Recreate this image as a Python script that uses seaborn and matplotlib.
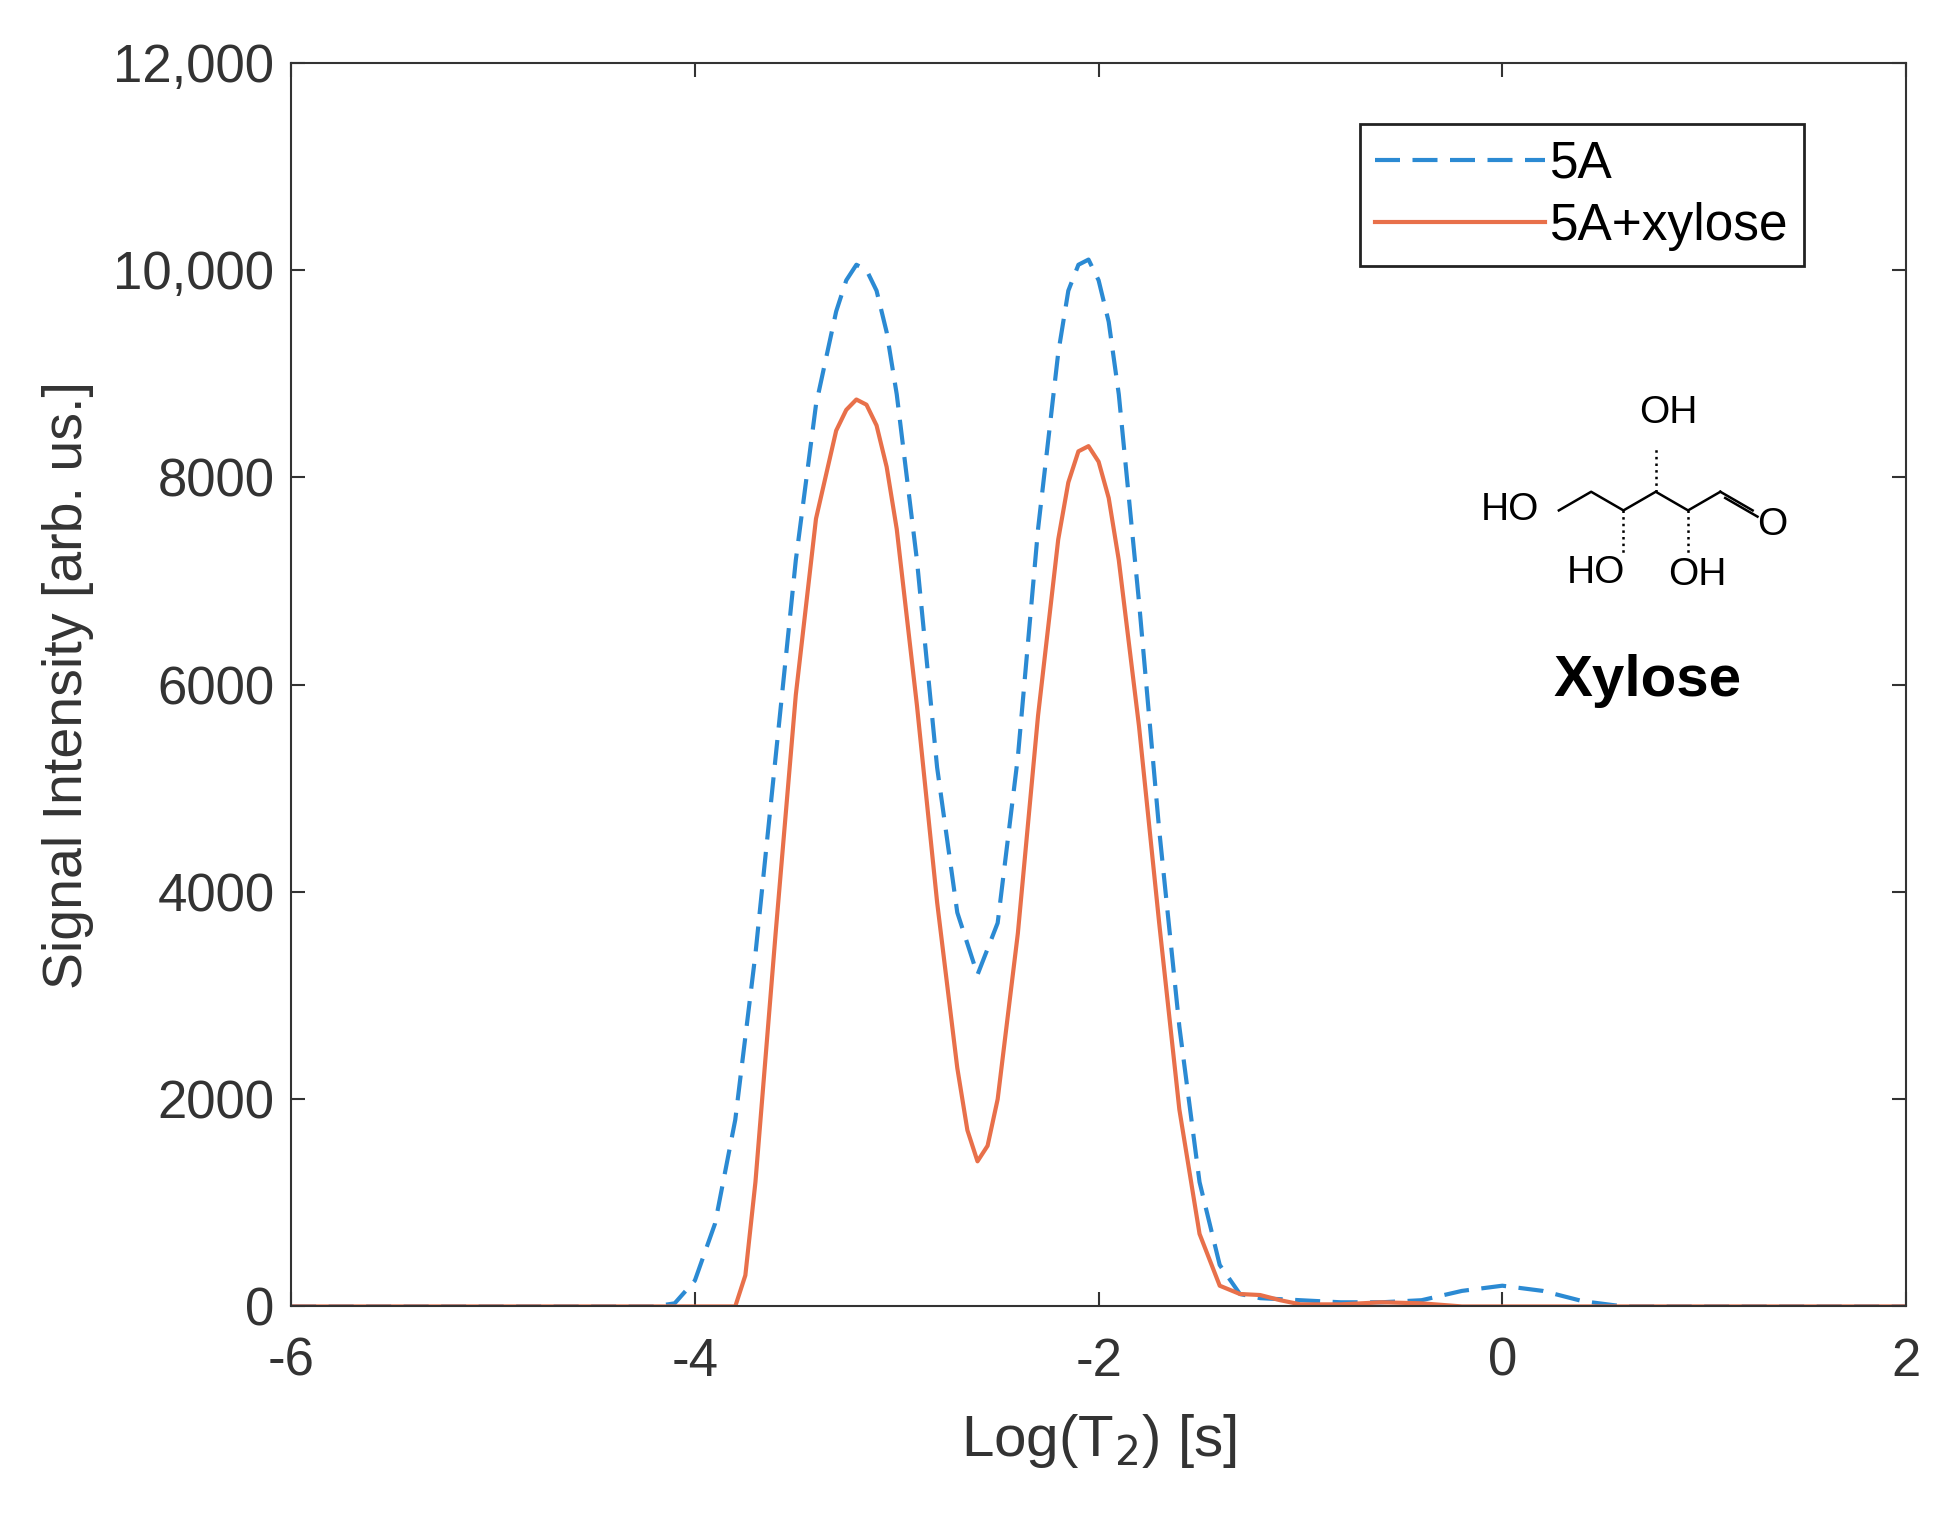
import numpy as np
import pandas as pd
import seaborn as sns
import matplotlib.pyplot as plt

# values
logt_5a = [-6.0, -4.2, -4.1, -4.0, -3.9, -3.8, -3.7, -3.6, -3.5, -3.4, -3.3, -3.25, -3.2, -3.15, -3.1, -3.05, -3.0,
           -2.9, -2.8, -2.7, -2.6, -2.5, -2.4, -2.3, -2.2, -2.15, -2.1, -2.05, -2.0, -1.95, -1.9, -1.8, -1.7, -1.6,
           -1.5, -1.4, -1.3, -1.2, -1.0, -0.8, -0.6, -0.4, -0.2, 0.0, 0.2, 0.4, 0.6, 2.0]
sig_5a = [0, 0, 30, 250, 800, 1800, 3400, 5300, 7200, 8700, 9600, 9900, 10050, 10000, 9800, 9400, 8800,
          7200, 5200, 3800, 3200, 3700, 5300, 7500, 9200, 9800, 10050, 10100, 9900, 9500, 8800, 6800, 4600, 2700,
          1200, 400, 120, 80, 60, 40, 40, 60, 150, 200, 150, 50, 0, 0]
logt_xyl = [-6.0, -3.9, -3.8, -3.75, -3.7, -3.6, -3.5, -3.4, -3.3, -3.25, -3.2, -3.15, -3.1, -3.05, -3.0,
            -2.9, -2.8, -2.7, -2.65, -2.6, -2.55, -2.5, -2.4, -2.3, -2.2, -2.15, -2.1, -2.05, -2.0, -1.95, -1.9,
            -1.8, -1.7, -1.6, -1.5, -1.4, -1.3, -1.2, -1.1, -1.0, -0.8, -0.6, -0.4, -0.2, 0.0, 2.0]
sig_xyl = [0, 0, 0, 300, 1200, 3600, 5900, 7600, 8450, 8650, 8750, 8700, 8500, 8100, 7500,
           5800, 3900, 2300, 1700, 1400, 1550, 2000, 3600, 5700, 7400, 7950, 8250, 8300, 8150, 7800, 7200,
           5600, 3700, 1900, 700, 200, 120, 110, 60, 20, 20, 40, 30, 0, 0, 0]

df = pd.concat([
    pd.DataFrame({"x": logt_5a, "y": sig_5a, "s": "5A"}),
    pd.DataFrame({"x": logt_xyl, "y": sig_xyl, "s": "5A+xylose"}),
])

plt.rcParams["font.family"] = "Liberation Sans"
plt.rcParams["axes.unicode_minus"] = False
fig, ax = plt.subplots(figsize=(19.41, 15.28), dpi=100)
fig.subplots_adjust(left=0.150, right=0.982, top=0.959, bottom=0.145)

sns.lineplot(data=df, x="x", y="y", hue="s", style="s",
             palette={"5A": "#2b8ad3", "5A+xylose": "#e8704a"},
             dashes={"5A": (6, 3), "5A+xylose": ""}, linewidth=3, ax=ax, sort=False)

ax.set_xlim(-6, 2)
ax.set_ylim(0, 12000)
ax.set_xticks([-6, -4, -2, 0, 2])
ax.set_yticks(range(0, 12001, 2000))
ax.set_yticklabels(["0", "2000", "4000", "6000", "8000", "10,000", "12,000"])
ax.tick_params(direction="in", length=10, width=1.5, labelsize=38, colors="#333333",
               top=True, right=True, pad=12)
ax.tick_params(axis="x", pad=22)
for sp in ax.spines.values():
    sp.set_linewidth(1.5)
    sp.set_color("#333333")
ax.set_xlabel(r"Log(T$_2$) [s]", fontsize=42, color="#333333", labelpad=18)
ax.set_ylabel("Signal Intensity [arb. us.]", fontsize=40, color="#333333", labelpad=14)

leg = ax.legend(loc="upper right", fontsize=37, fancybox=False, edgecolor="#222222",
                handlelength=3.3, handletextpad=0.1, borderaxespad=1.2, framealpha=1,
                borderpad=0.3, labelspacing=0.25, bbox_to_anchor=(0.975, 1.0))
leg.get_frame().set_linewidth(2)

# xylose structure sketch (annotation)
tr = ax.transAxes
pts = [(0.785, 0.640), (0.805, 0.655), (0.825, 0.640), (0.845, 0.655), (0.865, 0.640), (0.885, 0.655)]
ax.plot(*zip(*pts), color="black", lw=1.8, transform=tr)
ax.plot([0.885, 0.905], [0.655, 0.640], color="black", lw=1.8, transform=tr)
ax.plot([0.888, 0.908], [0.650, 0.635], color="black", lw=1.8, transform=tr)
ax.plot([0.845, 0.845], [0.655, 0.690], color="black", lw=1.8, ls=":", transform=tr)
ax.plot([0.825, 0.825], [0.640, 0.605], color="black", lw=1.8, ls=":", transform=tr)
ax.plot([0.865, 0.865], [0.640, 0.605], color="black", lw=1.8, ls=":", transform=tr)
kw = dict(transform=tr, fontsize=28, ha="center", va="center")
ax.text(0.755, 0.640, "HO", **kw)
ax.text(0.853, 0.718, "OH", **kw)
ax.text(0.917, 0.628, "O", **kw)
ax.text(0.808, 0.590, "HO", **kw)
ax.text(0.871, 0.588, "OH", **kw)
ax.text(0.840, 0.503, "Xylose", transform=tr, fontsize=42, fontweight="bold",
        ha="center", va="center")

fig.savefig("out.png", dpi=100)
